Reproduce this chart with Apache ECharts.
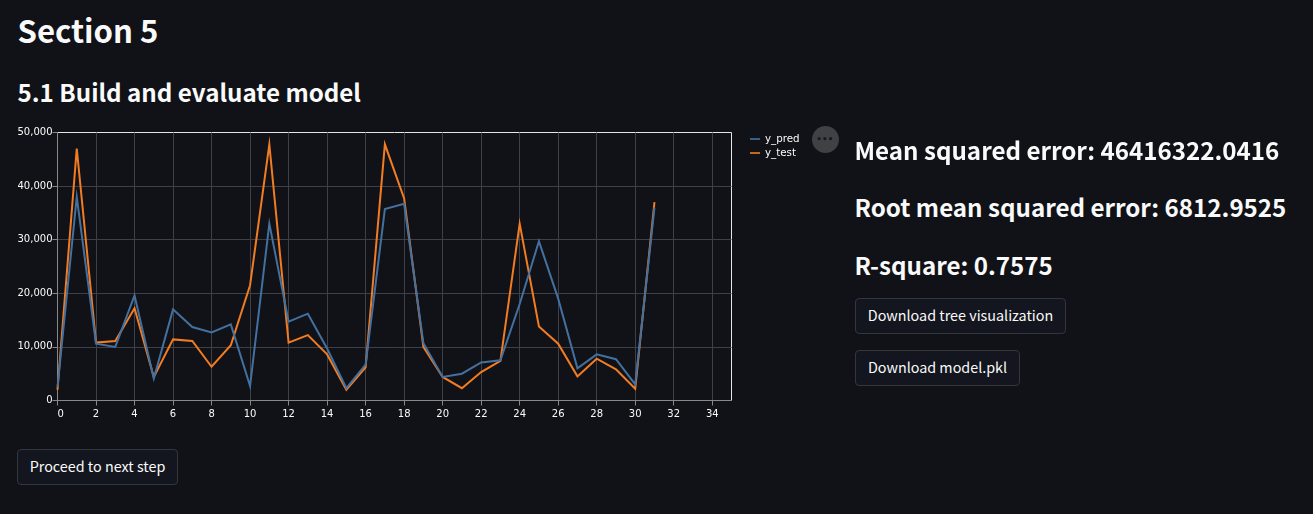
<!DOCTYPE html>
<html><head><meta charset="utf-8">
<style>
html,body{margin:0;padding:0;background:#101217;width:1313px;height:514px;overflow:hidden;color:#fafafa;font-family:"Noto Sans CJK SC","Noto Sans",sans-serif}
.t{position:absolute;white-space:nowrap;font-weight:700;line-height:1}
.b{position:absolute;box-sizing:border-box;height:36px;border:1px solid #34363e;border-radius:4px;background:#13161e;color:#fafafa;font-size:14.35px;line-height:32px;text-align:center;white-space:nowrap}
#more{position:absolute;left:811.5px;top:126px;width:27px;height:27px;border-radius:50%;background:#404144;color:#17181c;font:700 9px/27px "DejaVu Sans";text-align:center}
#chart{position:absolute;left:0;top:120px;width:850px;height:300px}
</style></head><body>
<div class="t" style="left:17.5px;top:14px;font-size:31.1px">Section 5</div>
<div class="t" style="left:17.5px;top:80px;font-size:24.15px">5.1 Build and evaluate model</div>
<div id="chart"></div>
<div id="more">•••</div>
<div class="t" style="left:854.5px;top:138px;font-size:24.15px">Mean squared error: 46416322.0416</div>
<div class="t" style="left:854.5px;top:195px;font-size:24.15px">Root mean squared error: 6812.9525</div>
<div class="t" style="left:854.5px;top:253px;font-size:24.15px">R-square: 0.7575</div>
<div class="b" style="left:855px;top:298px;width:211px">Download tree visualization</div>
<div class="b" style="left:855px;top:350px;width:165px">Download model.pkl</div>
<div class="b" style="left:17px;top:449px;width:161px">Proceed to next step</div>
<script src="https://cdn.jsdelivr.net/npm/echarts@6/dist/echarts.min.js"></script>
<script>
const indices=[0,1,2,3,4,5,6,7,8,9,10,11,12,13,14,15,16,17,18,19,20,21,22,23,24,25,26,27,28,29,30,31];
const yPred=[2500,38000,10600,10000,19600,4100,17000,13700,12700,14200,2700,33000,14700,16200,9700,2300,6700,35700,36700,10700,4400,5000,7100,7500,18000,29700,19000,6000,8600,7700,3000,36000];
const yTest=[2000,47000,10800,11100,17200,4400,11400,11100,6300,10300,21500,47800,10800,12200,8600,2000,6200,47800,37700,10000,4400,2300,5300,7400,33000,13800,10600,4500,7800,5800,2200,37000];
const seriesNames=['y_pred','y_test'];
const colors=['#43709f','#f27c22'];
const pairs=a=>indices.map((x,i)=>[x,a[i]]);
const c=echarts.init(document.getElementById('chart'));
const labelStyle={color:'#fafafa',fontFamily:'"DejaVu Sans"',fontSize:10};
c.setOption({
 animation:false,backgroundColor:'transparent',
 grid:{left:57.5,top:12.5,width:674,height:268,show:true,borderColor:'#e6e6e6',borderWidth:1,backgroundColor:'transparent'},
 legend:{left:745,top:9,orient:'vertical',itemWidth:10,itemHeight:2,itemGap:4,icon:'rect',inactiveColor:'#888',itemStyle:{opacity:0.8},
   textStyle:{color:'#fafafa',fontFamily:'"DejaVu Sans"',fontSize:10.3,padding:[0,0,0,0]},data:seriesNames},
 xAxis:{type:'value',min:0,max:35,interval:2,
   axisLine:{show:true,lineStyle:{color:'#888'}},axisTick:{show:true,length:5,lineStyle:{color:'#888'}},
   splitLine:{show:true,showMinLine:false,showMaxLine:false,lineStyle:{color:'#3e4046',width:1}},
   axisLabel:Object.assign({margin:9,alignMinLabel:'left',showMaxLabel:false},labelStyle)},
 yAxis:{type:'value',min:0,max:50000,interval:10000,
   axisLine:{show:true,lineStyle:{color:'#888'}},axisTick:{show:true,length:5,lineStyle:{color:'#888'}},
   splitLine:{show:true,showMinLine:false,showMaxLine:false,lineStyle:{color:'#3e4046',width:1}},
   axisLabel:Object.assign({margin:5,padding:[2,0,0,0],formatter:v=>v.toLocaleString('en-US')},labelStyle)},
 series:[
  {name:seriesNames[0],type:'line',data:pairs(yPred),showSymbol:false,symbol:'none',z:3,lineStyle:{color:colors[0],width:2,join:'miter'},itemStyle:{color:colors[0]}},
  {name:seriesNames[1],type:'line',data:pairs(yTest),showSymbol:false,symbol:'none',z:2,lineStyle:{color:colors[1],width:2,join:'miter'},itemStyle:{color:colors[1]}}
 ]
});
</script>
</body></html>
